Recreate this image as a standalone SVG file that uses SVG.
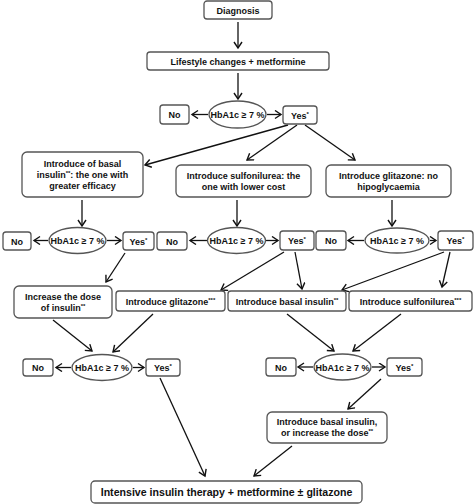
<svg xmlns="http://www.w3.org/2000/svg" width="474" height="504" viewBox="0 0 474 504">
<style>
.b{fill:#fff;stroke:#555;stroke-width:1.3}
.t{font-family:"Liberation Sans",Arial,sans-serif;font-weight:bold;font-size:9px;fill:#111;text-anchor:middle}
.sup{font-size:6px}
.big{font-size:10.6px}
.c line{stroke:#111;stroke-width:1.3;marker-end:url(#ah)}
</style>
<defs>
<marker id="ah" markerUnits="userSpaceOnUse" markerWidth="10" markerHeight="10" refX="7" refY="4.5" orient="auto">
<path d="M1,0.5 L7,4.5 L1,8.5" fill="none" stroke="#111" stroke-width="1.4"/>
</marker>
</defs>
<rect width="474" height="504" fill="#fff"/>
<g class="c" id="connectors">
<line x1="238" y1="22" x2="238" y2="48"/>
<line x1="238" y1="73" x2="238" y2="99"/>
<line x1="208" y1="114.5" x2="192" y2="114.5"/>
<line x1="267" y1="114.5" x2="281" y2="114.5"/>
<line x1="288" y1="125" x2="145" y2="165"/>
<line x1="297" y1="125" x2="247" y2="160"/>
<line x1="305" y1="125" x2="355" y2="160"/>
<line x1="82" y1="200" x2="82" y2="226"/>
<line x1="237" y1="200" x2="237" y2="226"/>
<line x1="392" y1="200" x2="392" y2="226"/>
<line x1="48" y1="240.5" x2="34" y2="240.5"/>
<line x1="107" y1="240.5" x2="121" y2="240.5"/>
<line x1="207" y1="240.5" x2="190" y2="240.5"/>
<line x1="266" y1="240.5" x2="278" y2="240.5"/>
<line x1="364" y1="240.5" x2="348" y2="240.5"/>
<line x1="430" y1="240.5" x2="436" y2="240.5"/>
<line x1="125" y1="253" x2="106" y2="282"/>
<line x1="284" y1="252" x2="221" y2="290"/>
<line x1="295" y1="252" x2="302" y2="289"/>
<line x1="444" y1="252" x2="342" y2="290"/>
<line x1="450" y1="252" x2="442" y2="287"/>
<line x1="53" y1="320" x2="92" y2="351"/>
<line x1="153" y1="314" x2="113" y2="352"/>
<line x1="71" y1="367.5" x2="56" y2="367.5"/>
<line x1="133" y1="367.5" x2="144" y2="367.5"/>
<line x1="287" y1="314" x2="334" y2="351"/>
<line x1="401" y1="314" x2="353" y2="351"/>
<line x1="313" y1="367" x2="298" y2="367"/>
<line x1="372" y1="367" x2="385" y2="367"/>
<line x1="381" y1="379" x2="348" y2="409"/>
<line x1="160" y1="378" x2="205" y2="476"/>
<line x1="292" y1="446" x2="254" y2="476"/>
</g>
<g id="diagnosis"><rect class="b" x="204" y="1" width="68" height="18" rx="3"/><text class="t" x="238" y="13.5">Diagnosis</text></g>
<g id="lifestyle"><rect class="b" x="147" y="52" width="182" height="18" rx="3"/><text class="t" x="238" y="64.5">Lifestyle changes + metformine</text></g>
<g id="hba1"><ellipse class="b" cx="237.5" cy="114.5" rx="28.5" ry="13.5"/><text class="t" x="237.5" y="118">HbA1c ≥ 7 %</text></g>
<g id="no1"><rect class="b" x="160" y="105" width="29" height="19" rx="3"/><text class="t" x="174.5" y="118">No</text></g>
<g id="yes1"><rect class="b" x="283" y="106" width="34" height="18" rx="3"/><text class="t" x="300" y="118.5">Yes<tspan class="sup" dy="-3">*</tspan></text></g>
<g id="basal1"><rect class="b" x="22" y="152" width="121" height="45" rx="5"/><text class="t" x="82.5" y="167">Introduce of basal</text><text class="t" x="82.5" y="178">insulin<tspan class="sup" dy="-3">**</tspan><tspan dy="3">: the one with</tspan></text><text class="t" x="82.5" y="189">greater efficacy</text></g>
<g id="sulfo1"><rect class="b" x="176" y="165" width="135" height="32" rx="5"/><text class="t" x="243.5" y="179">Introduce sulfonilurea: the</text><text class="t" x="243.5" y="189.5">one with lower cost</text></g>
<g id="glita1"><rect class="b" x="326" y="165" width="125" height="32" rx="5"/><text class="t" x="388.5" y="179">Introduce glitazone: no</text><text class="t" x="388.5" y="189.5">hipoglycaemia</text></g>
<g id="no2a"><rect class="b" x="3" y="232" width="28" height="18" rx="3"/><text class="t" x="17" y="244.5">No</text></g>
<g id="hba2a"><ellipse class="b" cx="77.5" cy="240.5" rx="28.5" ry="13"/><text class="t" x="77.5" y="244">HbA1c ≥ 7 %</text></g>
<g id="yes2a"><rect class="b" x="123" y="232" width="31" height="18" rx="3"/><text class="t" x="138.5" y="244.5">Yes<tspan class="sup" dy="-3">*</tspan></text></g>
<g id="no2b"><rect class="b" x="157" y="232" width="30" height="18" rx="3"/><text class="t" x="172" y="244.5">No</text></g>
<g id="hba2b"><ellipse class="b" cx="236.5" cy="240.5" rx="29" ry="13"/><text class="t" x="236.5" y="244">HbA1c ≥ 7 %</text></g>
<g id="yes2b"><rect class="b" x="280" y="231" width="34" height="19" rx="3"/><text class="t" x="297" y="244">Yes<tspan class="sup" dy="-3">*</tspan></text></g>
<g id="no2c"><rect class="b" x="316" y="231" width="30" height="19" rx="3"/><text class="t" x="331" y="244">No</text></g>
<g id="hba2c"><ellipse class="b" cx="397" cy="240.5" rx="32" ry="12.5"/><text class="t" x="397" y="244">HbA1c ≥ 7 %</text></g>
<g id="yes2c"><rect class="b" x="438" y="231" width="35" height="19" rx="3"/><text class="t" x="455.5" y="244">Yes<tspan class="sup" dy="-3">*</tspan></text></g>
<g id="incdose"><rect class="b" x="14" y="286" width="98" height="32" rx="5"/><text class="t" x="63" y="300">Increase the dose</text><text class="t" x="63" y="310.5">of insulin<tspan class="sup" dy="-3">**</tspan></text></g>
<g id="glita2"><rect class="b" x="116" y="291" width="109" height="20" rx="3"/><text class="t" x="170.5" y="304.5">Introduce glitazone<tspan class="sup" dy="-3">***</tspan></text></g>
<g id="basal2"><rect class="b" x="228" y="291" width="118" height="20" rx="3"/><text class="t" x="287" y="304.5">Introduce basal insulin<tspan class="sup" dy="-3">**</tspan></text></g>
<g id="sulfo2"><rect class="b" x="349" y="291" width="123" height="20" rx="3"/><text class="t" x="410.5" y="304.5">Introduce sulfonilurea<tspan class="sup" dy="-3">***</tspan></text></g>
<g id="no3a"><rect class="b" x="23" y="359" width="30" height="17" rx="3"/><text class="t" x="38" y="371">No</text></g>
<g id="hba3a"><ellipse class="b" cx="102" cy="367.5" rx="30" ry="13"/><text class="t" x="102" y="371">HbA1c ≥ 7 %</text></g>
<g id="yes3a"><rect class="b" x="146" y="359" width="34" height="17" rx="3"/><text class="t" x="163" y="371">Yes<tspan class="sup" dy="-3">*</tspan></text></g>
<g id="no3b"><rect class="b" x="266" y="358" width="30" height="18" rx="3"/><text class="t" x="281" y="370.5">No</text></g>
<g id="hba3b"><ellipse class="b" cx="342.5" cy="367" rx="28.5" ry="13"/><text class="t" x="342.5" y="370.5">HbA1c ≥ 7 %</text></g>
<g id="yes3b"><rect class="b" x="387" y="358" width="35" height="18" rx="3"/><text class="t" x="404.5" y="370.5">Yes<tspan class="sup" dy="-3">*</tspan></text></g>
<g id="basal3"><rect class="b" x="267" y="412" width="120" height="31" rx="5"/><text class="t" x="327" y="425">Introduce basal insulin,</text><text class="t" x="327" y="435.5">or increase the dose<tspan class="sup" dy="-3">**</tspan></text></g>
<g id="final"><rect class="b" x="91" y="481" width="271" height="22" rx="4"/><text class="t big" x="226.5" y="496">Intensive insulin therapy + metformine ± glitazone</text></g>
</svg>
